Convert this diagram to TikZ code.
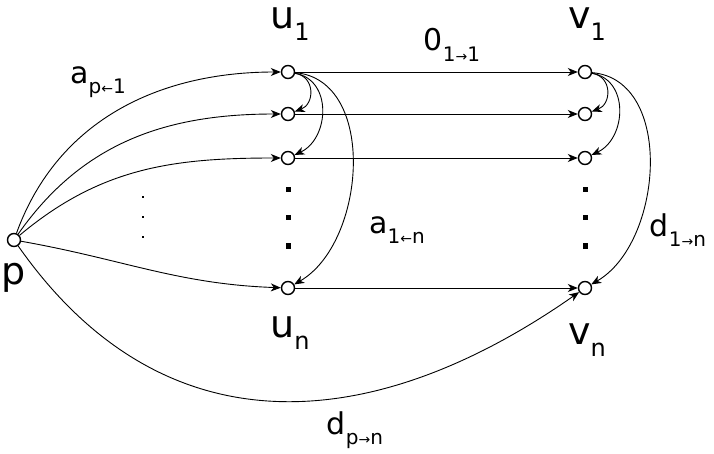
\documentclass[tikz,border=0pt]{standalone}
\usepackage{fontspec}
\setmainfont{DejaVu Sans}
\usetikzlibrary{arrows.meta}
\newcommand{\lowsub}[1]{\raisebox{-0.35em}{\fontsize{20}{20}\selectfont#1}}
\newcommand{\bigsub}[1]{\raisebox{-0.3em}{\fontsize{24}{24}\selectfont#1}}
\begin{document}
\begin{tikzpicture}[x=1pt,y=-1pt,
  v/.style={circle,draw,line width=1.4pt,minimum size=13pt,inner sep=0pt},
  e/.style={-{Stealth[length=10pt,width=8pt,inset=3pt]},line width=0.9pt},
  big/.style={font=\fontsize{38}{38}\selectfont,inner sep=0pt},
  lab/.style={font=\fontsize{30}{30}\selectfont,inner sep=0pt},
  dot/.style={fill,minimum size=5pt,inner sep=0pt}]
\useasboundingbox (0,0) rectangle (714,454);
\node[v] (p) at (14,240) {};
\foreach \n/\y in {1/72,2/114,3/158,n/288}{
  \node[v] (u\n) at (288,\y) {};
  \node[v] (v\n) at (585,\y) {};
  \draw[e] (u\n) -- (v\n);
}
\foreach \y in {190,218,246}{
  \node[dot] (du\y) at (288,\y) {};
  \node[dot] (dv\y) at (585,\y) {};
}
\foreach \y in {197,217,237}{\node[fill,minimum size=2.5pt,inner sep=0pt] (dl\y) at (143,\y) {};}
\node[big] (lu1) at (290,24) {u\bigsub{1}};
\node[big] (lv1) at (587,24) {v\bigsub{1}};
\node[big] (lun) at (290,333) {u\bigsub{n}};
\node[big] (lvn) at (587,340) {v\bigsub{n}};
\node[big] (lp) at (14,278) {p};
\node[lab] (l1) at (98,82) {a\lowsub{p{\fontsize{14}{14}\selectfont←}1}};
\node[lab] (l2) at (452,45) {0\lowsub{1{\fontsize{14}{14}\selectfont→}1}};
\node[lab] (l3) at (397,230) {a\lowsub{1{\fontsize{14}{14}\selectfont←}n}};
\node[lab] (l4) at (678,230) {d\lowsub{1{\fontsize{14}{14}\selectfont→}n}};
\node[lab] (l5) at (355,430) {d\lowsub{p{\fontsize{14}{14}\selectfont→}n}};
\draw[e] (p) to[out=70,in=180] (u1);
\draw[e] (p) to[out=55,in=180] (u2);
\draw[e] (p) to[out=40,in=180] (u3);
\draw[e] (p) to[out=-10,in=178] (un);
\draw[e] (p) to[out=-55,in=-145,looseness=1.15] (vn);
\foreach \c in {u,v}{
\draw[e] (\c1) to[out=-10,in=20,looseness=1.4] (\c2);
\draw[e] (\c1) to[out=-10,in=25,looseness=1.2] (\c3);
\draw[e] (\c1) to[out=-5,in=30,looseness=1] (\c n);
}
\end{tikzpicture}
\end{document}
